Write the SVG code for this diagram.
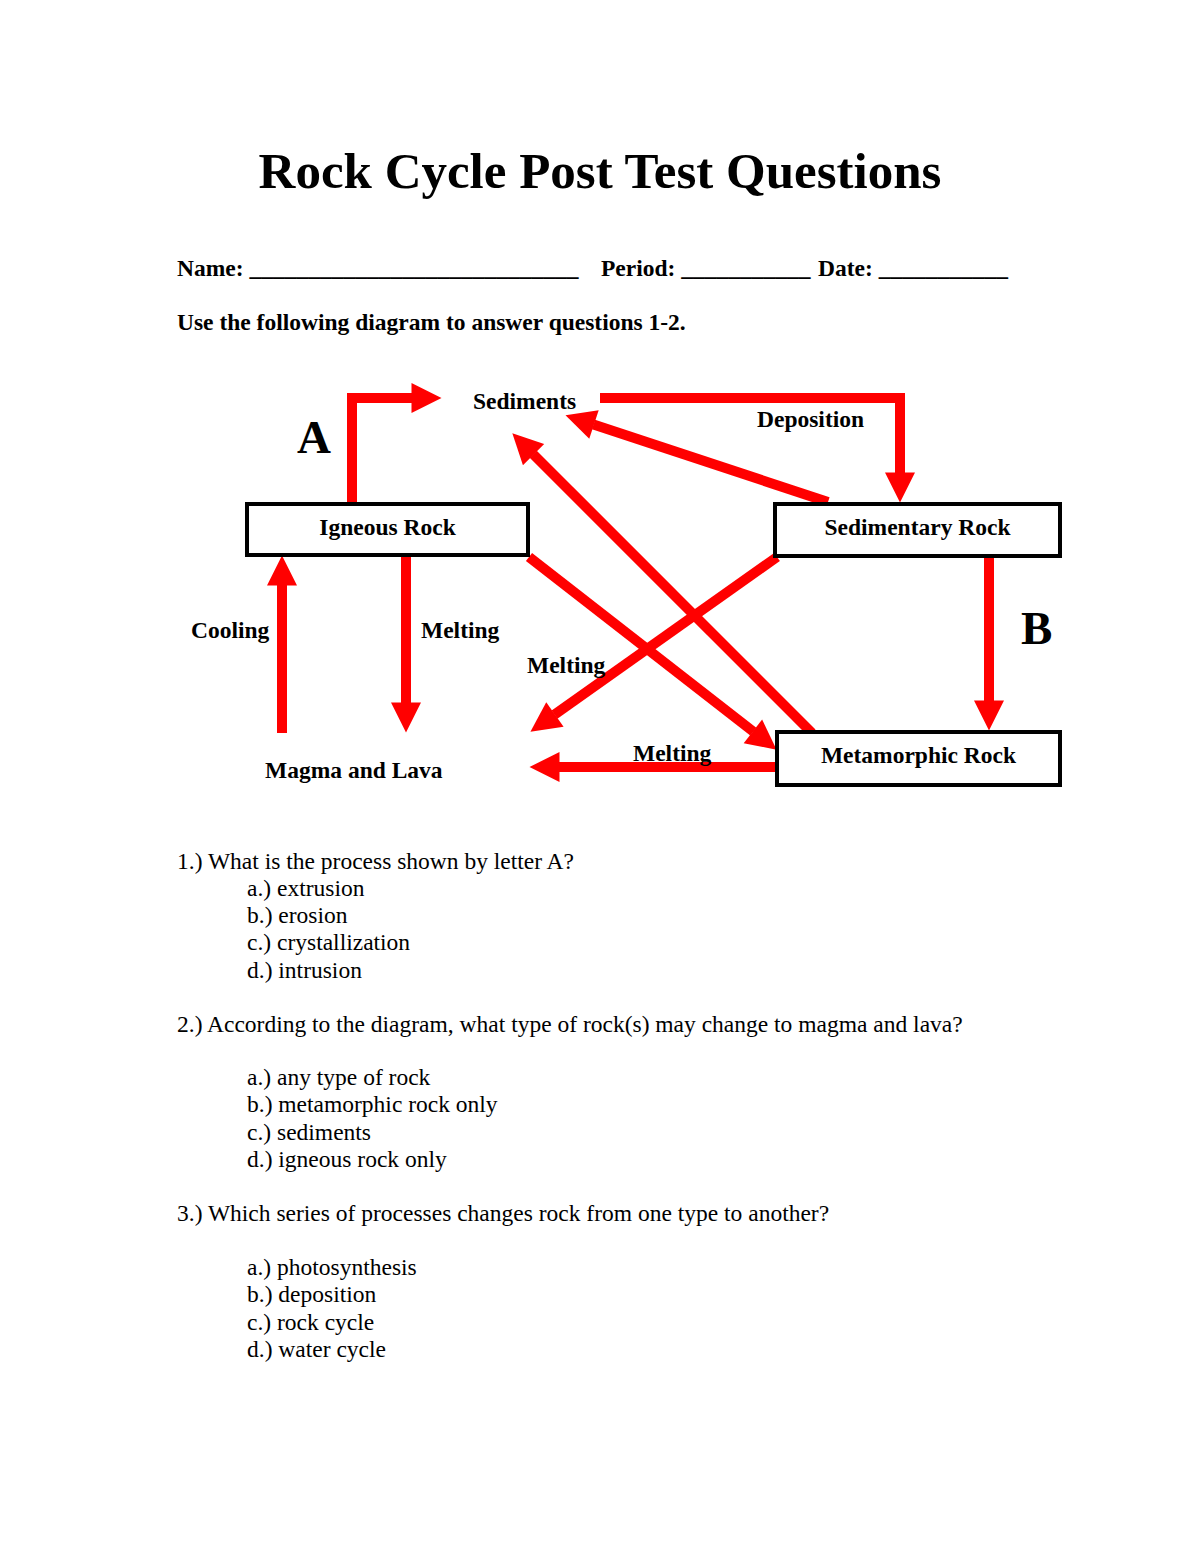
<svg xmlns="http://www.w3.org/2000/svg" width="1200" height="1553" viewBox="0 0 1200 1553">
<style>
text{font-family:"Liberation Serif","Times New Roman",serif;fill:#000}
.b{font-weight:bold;font-size:23.5px}
.q{font-size:23.5px}
.big{font-weight:bold;font-size:47px}
.box{fill:#fff;stroke:#000;stroke-width:4}
.arr{fill:none;stroke:#f00;stroke-width:10;stroke-linecap:butt;stroke-linejoin:miter;marker-end:url(#ah)}
</style>
<defs>
<marker id="ah" markerWidth="3" markerHeight="3" refX="0.05" refY="1.5" orient="auto" markerUnits="strokeWidth" viewBox="0 0 3 3" overflow="visible">
<path d="M0,0 L3,1.5 L0,3 z" fill="#f00"/>
</marker>
</defs>
<rect width="1200" height="1553" fill="#fff"/>

<g id="header">
<text x="600" y="188" text-anchor="middle" style="font-weight:bold;font-size:51px">Rock Cycle Post Test Questions</text>
<text class="b" x="177" y="276">Name: ____________________________</text>
<text class="b" x="601" y="276">Period: ___________</text>
<text class="b" x="818" y="276">Date: ___________</text>
<text class="b" x="177" y="330">Use the following diagram to answer questions 1-2.</text>
</g>

<g id="connectors">
<polyline class="arr" points="352,502 352,398 412,398"/>
<polyline class="arr" points="600,398 900,398 900,473"/>
<line class="arr" x1="828" y1="502" x2="593.5" y2="424.4"/>
<line class="arr" x1="812" y1="733" x2="533.2" y2="454.2"/>
<line class="arr" x1="529" y1="557" x2="753.3" y2="731.6"/>
<line class="arr" x1="777" y1="557" x2="554.5" y2="714.7"/>
<line class="arr" x1="775" y1="767" x2="559" y2="767"/>
<line class="arr" x1="282" y1="733" x2="282" y2="585"/>
<line class="arr" x1="406" y1="557" x2="406" y2="703"/>
<line class="arr" x1="989" y1="558" x2="989" y2="701"/>
</g>

<g id="igneous">
<rect class="box" x="247" y="504" width="281" height="51"/>
<text class="b" x="387.5" y="535" text-anchor="middle">Igneous Rock</text>
</g>
<g id="sedimentary">
<rect class="box" x="775" y="504" width="285" height="52"/>
<text class="b" x="917.5" y="535" text-anchor="middle">Sedimentary Rock</text>
</g>
<g id="metamorphic">
<rect class="box" x="777" y="732" width="283" height="53"/>
<text class="b" x="918.5" y="763" text-anchor="middle">Metamorphic Rock</text>
</g>
<g id="sediments">
<text class="b" x="473" y="409">Sediments</text>
</g>
<g id="magma">
<text class="b" x="265" y="778">Magma and Lava</text>
</g>

<g id="labels">
<text class="big" x="297" y="453">A</text>
<text class="big" x="1021" y="644">B</text>
<text class="b" x="757" y="427">Deposition</text>
<text class="b" x="191" y="638">Cooling</text>
<text class="b" x="421" y="638">Melting</text>
<text class="b" x="527" y="673">Melting</text>
<text class="b" x="633" y="761">Melting</text>
</g>

<g id="questions">
<text class="q" x="177" y="869">1.) What is the process shown by letter A?</text>
<text class="q" x="247" y="896">a.) extrusion</text>
<text class="q" x="247" y="923">b.) erosion</text>
<text class="q" x="247" y="950">c.) crystallization</text>
<text class="q" x="247" y="978">d.) intrusion</text>
<text class="q" x="177" y="1032">2.) According to the diagram, what type of rock(s) may change to magma and lava?</text>
<text class="q" x="247" y="1085">a.) any type of rock</text>
<text class="q" x="247" y="1112">b.) metamorphic rock only</text>
<text class="q" x="247" y="1140">c.) sediments</text>
<text class="q" x="247" y="1167">d.) igneous rock only</text>
<text class="q" x="177" y="1221">3.) Which series of processes changes rock from one type to another?</text>
<text class="q" x="247" y="1275">a.) photosynthesis</text>
<text class="q" x="247" y="1302">b.) deposition</text>
<text class="q" x="247" y="1330">c.) rock cycle</text>
<text class="q" x="247" y="1357">d.) water cycle</text>
</g>
</svg>
